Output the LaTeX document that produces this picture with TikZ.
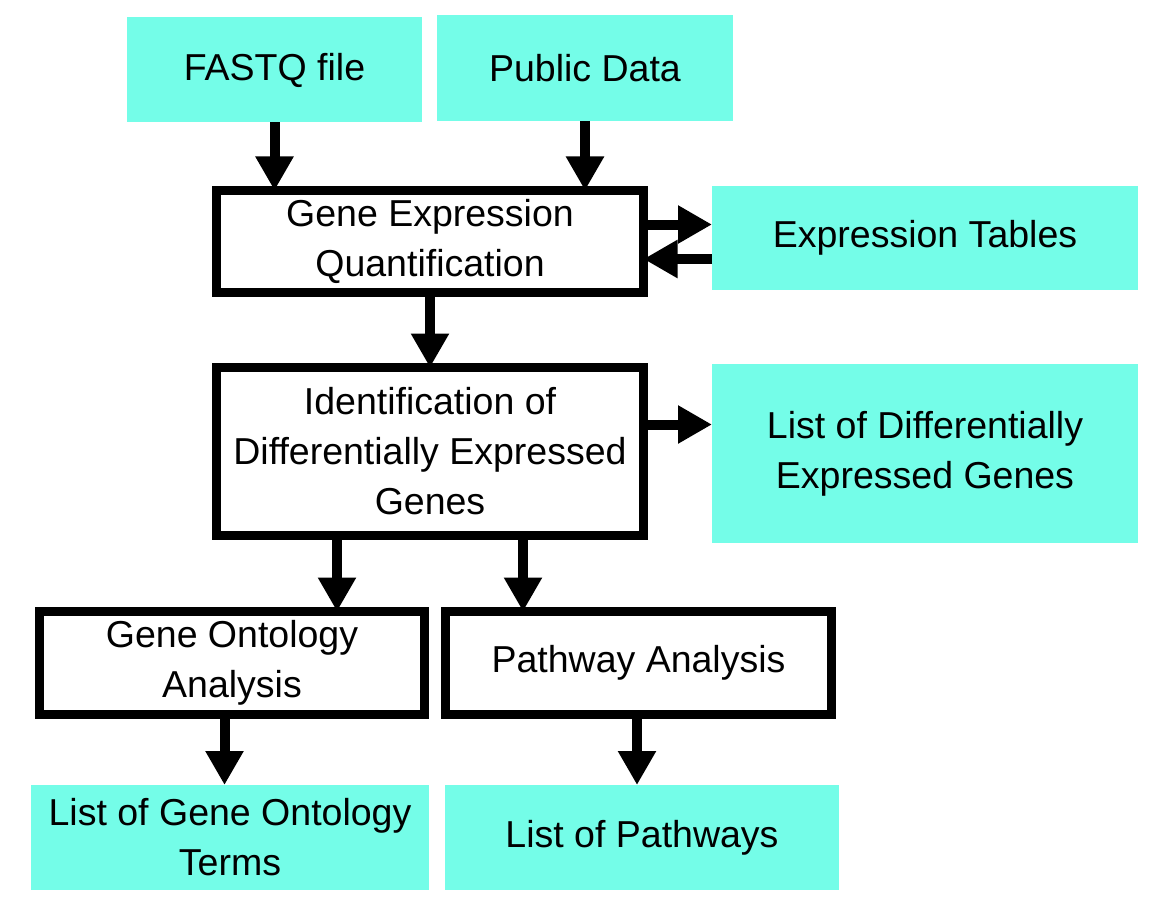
\documentclass[tikz,border=0pt]{standalone}
\usepackage{fontspec}
\setmainfont{Liberation Sans}
\usetikzlibrary{arrows.meta}
\definecolor{aqua}{RGB}{116,253,232}
\begin{document}
\begin{tikzpicture}[x=1pt,y=-1pt,
  every node/.style={font=\fontsize{37.5}{50}\selectfont, align=center, inner sep=0pt, outer sep=0pt},
  databox/.style={fill=aqua, draw=none},
  procbox/.style={draw=black, fill=white, line width=9pt},
  flow/.style={line width=10pt, -{Triangle[width=36pt,length=34pt]}}
]
\useasboundingbox (0,0) rectangle (1150,912);
\fill[white] (0,0) rectangle (1150,912);

\node[databox, minimum width=295pt, minimum height=105pt] (fastq) at (274.5,70) {FASTQ file};
\node[databox, minimum width=296pt, minimum height=106pt] (public) at (585,68) {Public Data};
\node[procbox, minimum width=427pt, minimum height=102pt] (geq) at (430,241.5) {Gene Expression\\Quantification};
\node[databox, minimum width=426pt, minimum height=104pt] (exptab) at (925,238) {Expression Tables};
\node[procbox, minimum width=427pt, minimum height=168pt] (ident) at (430,451.5) {Identification of\\Differentially Expressed\\Genes};
\node[databox, minimum width=426pt, minimum height=179pt] (deg) at (925,453.5) {List of Differentially\\Expressed Genes};
\node[procbox, minimum width=385pt, minimum height=103pt] (go) at (232,663) {Gene Ontology\\Analysis};
\node[procbox, minimum width=386pt, minimum height=103pt] (path) at (638.5,663) {Pathway Analysis};
\node[databox, minimum width=398pt, minimum height=105pt] (golist) at (230,837.5) {List of Gene Ontology\\Terms};
\node[databox, minimum width=394pt, minimum height=105pt] (pathlist) at (642,837.5) {List of Pathways};

\draw[flow] (fastq.south) -- (fastq.south |- geq.north);
\draw[flow] (public.south) -- (public.south |- geq.north);
\draw[flow] ([yshift=-34pt]geq.north east) -- ([yshift=-34pt]geq.north east -| exptab.west);
\draw[flow] ([yshift=-21pt]exptab.west) -- ([yshift=-21pt]exptab.west -| geq.east);
\draw[flow] (geq.south) -- (ident.north);
\draw[flow] ([yshift=-57pt]ident.north east) -- ([yshift=-57pt]ident.north east -| deg.west);
\draw[flow] ([xshift=-93pt]ident.south) -- ([xshift=-93pt]ident.south |- go.north);
\draw[flow] ([xshift=93pt]ident.south) -- ([xshift=93pt]ident.south |- path.north);
\draw[flow] ([xshift=-7.5pt]go.south) -- ([xshift=-7.5pt]go.south |- golist.north);
\draw[flow] ([xshift=-1.5pt]path.south) -- ([xshift=-1.5pt]path.south |- pathlist.north);
\end{tikzpicture}
\end{document}
